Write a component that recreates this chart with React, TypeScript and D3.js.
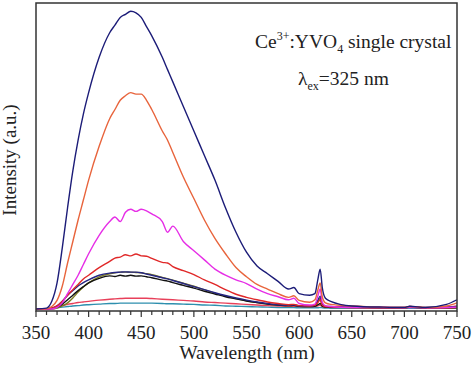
import React from "react"
import * as d3 from "d3"

// wavelength grid (nm) shared by every spectrum
const wl = [350, 360, 365, 370, 375, 380, 385, 390, 395, 400, 410, 420, 425, 430, 435, 440, 445, 450, 455, 460, 470, 475, 480, 490, 500, 510, 520, 530, 540, 550, 560, 570, 580, 590, 595, 600, 610, 615, 618, 620, 622, 625, 630, 650, 680, 700, 705, 720, 740, 750]

const navy = [0, 0.3, 2.5, 8.5, 20, 33, 45, 55, 63.5, 70.5, 82, 90, 92.5, 95, 96, 97, 96.5, 95, 92, 89, 82, 78, 74, 66, 58, 50, 42, 33, 25, 18.5, 14, 11.5, 9, 6.5, 7, 5, 4.5, 5, 10, 13, 7, 3.5, 2.5, 1, 0.6, 0.5, 0.9, 0.5, 1.5, 3]
const orange = [0, 0.1, 0.8, 2.8, 7.5, 15, 22, 29, 35.5, 42, 53, 62, 65, 68, 69.5, 70.5, 70, 70, 68, 65, 58, 55, 51, 43, 36, 29, 23, 18, 13.5, 10.5, 8, 6.5, 5, 3.8, 4.3, 2.8, 2.2, 3, 6.5, 8.5, 4, 2, 1.5, 1, 0.6, 0.5, 0.8, 0.5, 1, 2]
const magenta = [0, 0, 0, 0.5, 2, 5, 8, 11, 14.5, 18, 24, 28.5, 30, 28.5, 31.5, 32.5, 31.8, 32.5, 32, 31, 28.5, 25, 27, 22, 19, 16, 13, 11, 9.5, 8.3, 6.5, 5, 4, 3, 3.5, 1.8, 1.3, 1.6, 4.5, 6.5, 2.2, 1, 0.8, 0.5, 0.5, 0.4, 0.5, 0.4, 0.5, 0.6]
const red = [0, 0.1, 0.3, 1, 2.5, 4.5, 6.3, 8, 9.8, 11, 13.5, 15.5, 16.6, 16.9, 17.7, 17.3, 17.9, 17.3, 17.2, 16.5, 15.2, 15, 13.8, 12.5, 11.2, 9.5, 8, 6.3, 4.8, 3.8, 3, 2.3, 1.8, 1.4, 1.5, 1.1, 1, 1.2, 2.2, 3, 1.2, 0.8, 0.7, 0.5, 0.4, 0.4, 0.8, 0.4, 0.4, 0.5]
const navy2 = [0, 0.1, 0.3, 1, 2.5, 4.5, 6, 7.5, 8.6, 9.5, 11, 11.7, 11.9, 12, 12.1, 12, 12, 11.8, 11.4, 11, 10.2, 9.8, 9.3, 8.3, 7.3, 6.3, 5.3, 4.4, 3.6, 2.9, 2.3, 1.8, 1.4, 1.2, 1.3, 1, 0.9, 1.2, 3, 4.2, 1.5, 0.9, 0.8, 0.6, 0.5, 0.5, 0.7, 0.5, 0.6, 0.8]
const black = [0, 0, 0.2, 0.6, 1.6, 3, 4.5, 6, 7.3, 8.5, 10, 10.8, 10.6, 11, 10.7, 11, 10.7, 10.8, 10.5, 10.2, 9.4, 9.1, 8.6, 7.7, 6.8, 5.8, 4.9, 4, 3.3, 2.6, 2.1, 1.6, 1.3, 1.1, 1.2, 0.9, 0.8, 0.9, 1.4, 1.8, 0.9, 0.6, 0.5, 0.5, 0.4, 0.4, 0.6, 0.4, 0.4, 0.5]
const olive = [0, 0, 0, 0.3, 1, 2, 3.6, 5.5, 7.2, 8.5, 10.5, 11.5, 11.8, 12, 12, 12, 11.9, 11.8, 11.5, 11.2, 10.3, 9.9, 9.4, 8.4, 7.4, 6.3, 5.2, 4.2, 3.4, 2.7, 2.1, 1.6, 1.3, 1.1, 1.2, 0.9, 0.8, 1, 2.4, 3.4, 1.2, 0.7, 0.6, 0.5, 0.4, 0.4, 0.6, 0.4, 0.4, 0.5]
const pink = [0, 0, 0.3, 0.8, 1.1, 1.5, 1.8, 2.1, 2.3, 2.5, 2.9, 3.2, 3.3, 3.4, 3.5, 3.5, 3.5, 3.5, 3.5, 3.4, 3.2, 3.1, 3, 2.8, 2.6, 2.3, 2.1, 1.9, 1.7, 1.5, 1.3, 1.1, 1, 0.9, 0.9, 0.8, 0.8, 0.8, 1, 1.3, 0.8, 0.7, 0.7, 0.6, 0.5, 0.5, 0.6, 0.4, 0.6, 1]
const teal = [0, 0, 0.1, 0.4, 0.6, 0.8, 1, 1.1, 1.3, 1.4, 1.6, 1.8, 1.8, 1.9, 1.9, 1.9, 1.9, 1.9, 1.9, 1.9, 1.8, 1.7, 1.7, 1.6, 1.5, 1.3, 1.2, 1, 0.9, 0.8, 0.7, 0.6, 0.5, 0.45, 0.45, 0.4, 0.4, 0.4, 0.4, 0.5, 0.4, 0.3, 0.3, 0.3, 0.25, 0.25, 0.25, 0.2, 0.2, 0.2]

const series = [
  { name: "teal", values: teal, color: "#2e8fae" },
  { name: "pink", values: pink, color: "#e8405a" },
  { name: "olive", values: olive, color: "#7c7c1e" },
  { name: "black", values: black, color: "#111111" },
  { name: "navy2", values: navy2, color: "#262684" },
  { name: "red", values: red, color: "#e02828" },
  { name: "magenta", values: magenta, color: "#e62ee6" },
  { name: "orange", values: orange, color: "#e8643c" },
  { name: "navy", values: navy, color: "#1c1c78" },
]

const majorTicks = [350, 400, 450, 500, 550, 600, 650, 700, 750]
const minorTicks = d3.range(350, 751, 10)

export default function App() {
  const left = 36
  const right = 457
  const top = 3
  const bottom = 311
  const font = "'Liberation Serif', 'Times New Roman', serif"

  const x = d3.scaleLinear().domain([350, 750]).range([left, right])
  const y = d3.scaleLinear().domain([-0.65, 99.7]).range([bottom, top])

  const line = d3
    .line<number>()
    .x((_, i) => x(wl[i]))
    .y(d => y(d))
    .curve(d3.curveMonotoneX)

  return (
    <svg
      width={474}
      height={366}
      style={{ position: "absolute", left: 0, top: 0, background: "#fff" }}
      fontFamily={font}
    >
      <defs>
        <clipPath id="plot">
          <rect x={left} y={top} width={right - left} height={bottom - top} />
        </clipPath>
      </defs>

      <g clipPath="url(#plot)">
        {series.map(s => (
          <path
            key={s.name}
            d={line(s.values) ?? ""}
            fill="none"
            stroke={s.color}
            strokeWidth={1.4}
            strokeLinejoin="round"
          />
        ))}
      </g>

      <rect
        x={left}
        y={top}
        width={right - left}
        height={bottom - top}
        fill="none"
        stroke="#333"
        strokeWidth={1.5}
      />

      {minorTicks.map(t => (
        <line
          key={"m" + t}
          x1={x(t)}
          x2={x(t)}
          y1={bottom}
          y2={bottom + (t % 50 === 0 ? 6 : 4)}
          stroke="#333"
          strokeWidth={1.2}
        />
      ))}

      {majorTicks.map(t => (
        <text
          key={"l" + t}
          x={x(t)}
          y={339}
          textAnchor="middle"
          fontSize={19}
          fill="#222"
        >
          {t}
        </text>
      ))}

      <text x={247} y={359} textAnchor="middle" fontSize={19.5} fill="#222">
        Wavelength (nm)
      </text>

      <text
        transform="translate(16,160) rotate(-90)"
        textAnchor="middle"
        fontSize={19}
        fill="#222"
      >
        Intensity (a.u.)
      </text>

      <text x={255} y={48} fontSize={19.5} fill="#222">
        Ce
        <tspan fontSize={12} dy={-8}>3+</tspan>
        <tspan dy={8}>:YVO</tspan>
        <tspan fontSize={12} dy={5}>4</tspan>
        <tspan dy={-5}> single crystal</tspan>
      </text>

      <text x={298} y={85} fontSize={19.5} fill="#222">
        λ<tspan fontSize={12} dy={5}>ex</tspan>
        <tspan dy={-5}>=325 nm</tspan>
      </text>
    </svg>
  )
}
